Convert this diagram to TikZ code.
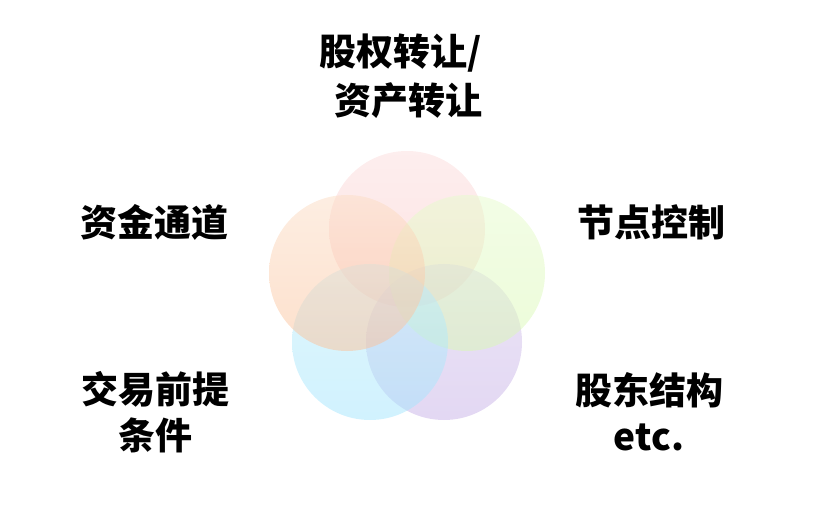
\documentclass[tikz,border=0pt]{standalone}
\usepackage{fontspec}
\setmainfont{Noto Sans CJK SC}[BoldFont={Noto Sans CJK SC Black}]
\usetikzlibrary{positioning}

\definecolor{pinkTop}{RGB}{251,221,221}
\definecolor{pinkBot}{RGB}{251,199,199}
\definecolor{greenTop}{RGB}{231,251,205}
\definecolor{greenBot}{RGB}{217,249,179}
\definecolor{orangeTop}{RGB}{251,221,197}
\definecolor{orangeBot}{RGB}{251,193,153}
\definecolor{blueTop}{RGB}{191,237,251}
\definecolor{blueBot}{RGB}{163,229,253}
\definecolor{purpleTop}{RGB}{215,201,237}
\definecolor{purpleBot}{RGB}{199,177,231}

\begin{document}
\begin{tikzpicture}[x = 1pt, y = -1pt,
					ring/.style = {circle, minimum size = 156pt, inner sep = 0pt, fill opacity = 0.5},
					label/.style = {font = \fontsize{37}{46}\selectfont\bfseries, inner sep = 0pt}]
					\useasboundingbox (0, 0) rectangle (824, 510);
					% five circles
					\node [ring, top color = pinkTop, bottom color = pinkBot] (pink) at (407, 229) {};
					\node [ring, top color = purpleTop, bottom color = purpleBot] (purple) at (444, 342) {};
					\node [ring, top color = greenTop, bottom color = greenBot] (green) at (467, 273) {};
					\node [ring, top color = blueTop, bottom color = blueBot] (blue) at (370, 342) {};
					\node [ring, top color = orangeTop, bottom color = orangeBot] (orange) at (347, 273) {};
					% labels
					\node [label, align = right] (transfer) at (401, 76) {股权转让/\\[3pt]资产转让};
					\node [label] (funds) at (154, 222) {资金通道};
					\node [label] (control) at (651, 222) {节点控制};
					\node [label, align = center] (conditions) at (155, 412) {交易前提\\条件};
					\node [label, align = center] (holders) at (649, 412) {股东结构\\etc.};
				\end{tikzpicture}
\end{document}
